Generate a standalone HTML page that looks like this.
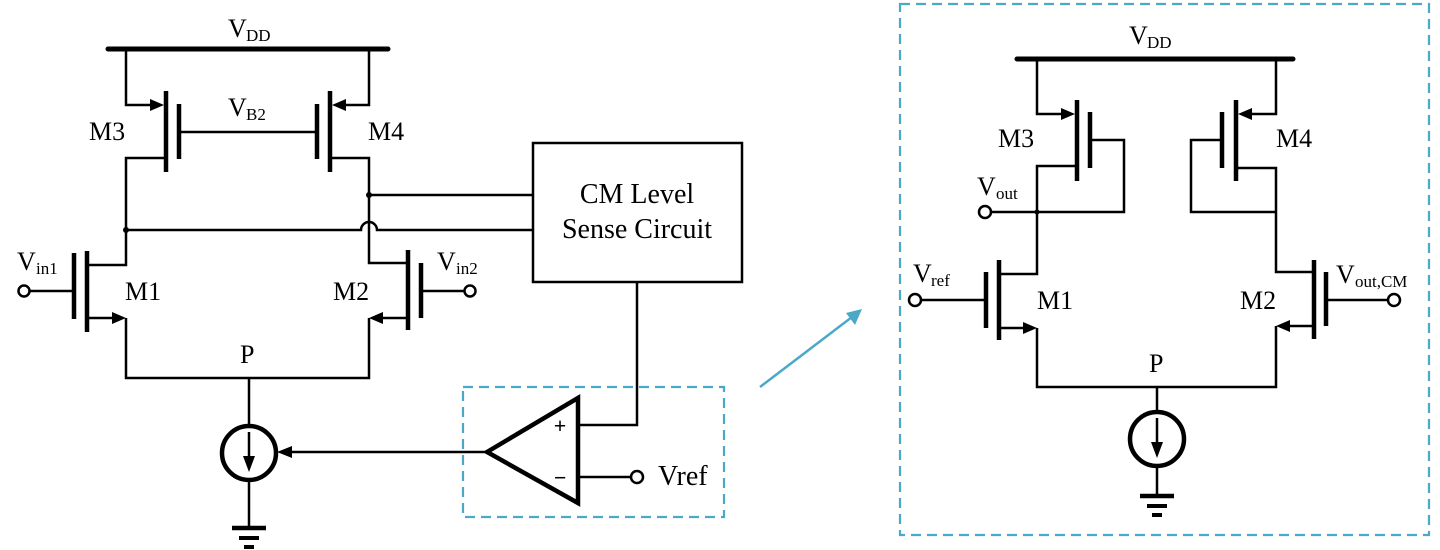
<!DOCTYPE html>
<html><head><meta charset="utf-8"><style>
html,body{margin:0;padding:0;background:#fff;}
svg{display:block;}
text{font-family:"Liberation Serif",serif;fill:#000;}
</style></head><body>
<svg width="1440" height="550" viewBox="0 0 1440 550" xmlns="http://www.w3.org/2000/svg">
<g stroke="#000" stroke-width="2.5" fill="none" stroke-linecap="butt">
<!-- LEFT CIRCUIT -->
<line x1="108" y1="49" x2="388" y2="49" stroke-width="5" stroke-linecap="round"/>
<polyline points="126,49 126,105 152,105"/>
<polyline points="369,49 369,105 344,105"/>
<line x1="166" y1="91" x2="166" y2="172" stroke-width="4.5"/>
<line x1="179" y1="104" x2="179" y2="159" stroke-width="4.5"/>
<line x1="317" y1="104" x2="317" y2="159" stroke-width="4.5"/>
<line x1="330" y1="91" x2="330" y2="172" stroke-width="4.5"/>
<line x1="179" y1="132" x2="317" y2="132"/>
<polyline points="166,158 126,158 126,265 87,265"/>
<polyline points="330,158 369,158 369,263 408,263"/>
<line x1="369" y1="195" x2="533" y2="195"/>
<path d="M126,230 L361,230 A8,8 0 0 1 377,230 L533,230"/>
<line x1="87" y1="251" x2="87" y2="332" stroke-width="4.5"/>
<line x1="74" y1="253" x2="74" y2="319" stroke-width="4.5"/>
<line x1="30" y1="291" x2="74" y2="291"/>
<line x1="87" y1="318" x2="113" y2="318"/>
<line x1="408" y1="250" x2="408" y2="330" stroke-width="4.5"/>
<line x1="421" y1="263" x2="421" y2="318" stroke-width="4.5"/>
<line x1="421" y1="291" x2="464" y2="291"/>
<line x1="408" y1="318" x2="382" y2="318"/>
<polyline points="126,318 126,378 369,378 369,318"/>
<line x1="249" y1="378" x2="249" y2="426"/>
<circle cx="249" cy="453" r="27" stroke-width="4.5"/>
<line x1="249" y1="432" x2="249" y2="460"/>
<line x1="249" y1="480" x2="249" y2="528"/>
<line x1="232" y1="528" x2="266" y2="528" stroke-width="4.5"/>
<line x1="239" y1="538" x2="259" y2="538" stroke-width="4"/>
<line x1="244" y1="547" x2="254" y2="547" stroke-width="4"/>
<circle cx="24" cy="291" r="5.5"/>
<circle cx="470" cy="291" r="5.5"/>
<!-- CM box -->
<rect x="533" y="143" width="209" height="139"/>
<polyline points="637,282 637,425 578,425"/>
<polygon points="487,452 578,398 578,503" stroke-width="4.5"/>
<line x1="578" y1="477" x2="631" y2="477"/>
<circle cx="637" cy="477" r="6"/>
<line x1="487" y1="452" x2="288" y2="452"/>
<!-- RIGHT CIRCUIT -->
<line x1="1017" y1="59" x2="1293" y2="59" stroke-width="5" stroke-linecap="round"/>
<polyline points="1037,59 1037,114 1062,114"/>
<polyline points="1276,59 1276,114 1252,114"/>
<line x1="1077" y1="100" x2="1077" y2="181" stroke-width="4.5"/>
<line x1="1090" y1="112" x2="1090" y2="168" stroke-width="4.5"/>
<polyline points="1090,140 1124,140 1124,212 1037,212"/>
<line x1="1236" y1="100" x2="1236" y2="181" stroke-width="4.5"/>
<line x1="1222" y1="112" x2="1222" y2="168" stroke-width="4.5"/>
<polyline points="1222,140 1191,140 1191,212 1276,212"/>
<polyline points="1077,166 1037,166 1037,274 999,274"/>
<polyline points="1236,168 1276,168 1276,272 1314,272"/>
<line x1="991" y1="212" x2="1037" y2="212"/>
<circle cx="985" cy="212" r="6"/>
<line x1="999" y1="260" x2="999" y2="340" stroke-width="4.5"/>
<line x1="986" y1="272" x2="986" y2="328" stroke-width="4.5"/>
<line x1="921" y1="300" x2="986" y2="300"/>
<circle cx="915" cy="300" r="6"/>
<line x1="999" y1="328" x2="1025" y2="328"/>
<line x1="1314" y1="260" x2="1314" y2="339" stroke-width="4.5"/>
<line x1="1326" y1="272" x2="1326" y2="326" stroke-width="4.5"/>
<line x1="1326" y1="300" x2="1388" y2="300"/>
<circle cx="1394" cy="300" r="6"/>
<line x1="1314" y1="326" x2="1288" y2="326"/>
<polyline points="1037,328 1037,387 1276,387 1276,326"/>
<line x1="1157" y1="387" x2="1157" y2="411"/>
<circle cx="1157" cy="439" r="27" stroke-width="4.5"/>
<line x1="1157" y1="418" x2="1157" y2="446"/>
<line x1="1157" y1="467" x2="1157" y2="496"/>
<line x1="1140" y1="496" x2="1174" y2="496" stroke-width="4.5"/>
<line x1="1147" y1="506" x2="1167" y2="506" stroke-width="4"/>
<line x1="1152" y1="515" x2="1162" y2="515" stroke-width="4"/>
</g>
<g fill="#000">
<circle cx="369" cy="195" r="3"/>
<circle cx="126" cy="230" r="3"/>
<circle cx="1037" cy="212" r="2.5"/>
<polygon points="164,105 150,99 150,111"/>
<polygon points="332,105 346,99 346,111"/>
<polygon points="126,318 112,312 112,324"/>
<polygon points="369,318 383,312 383,324"/>
<polygon points="249,472 243,456 255,456"/>
<polygon points="277,452 292,446 292,458"/>
<polygon points="1075,114 1061,108 1061,120"/>
<polygon points="1238,114 1252,108 1252,120"/>
<polygon points="1037,328 1023,322 1023,334"/>
<polygon points="1276,326 1290,320 1290,332"/>
<polygon points="1157,458 1151,442 1163,442"/>
</g>
<g stroke="#4aa9c9" stroke-width="2.2" fill="none" stroke-dasharray="10,6">
<rect x="463" y="387" width="261" height="130"/>
<rect x="900" y="4" width="529" height="531"/>
</g>
<line x1="760" y1="387" x2="852" y2="317" stroke="#4aa9c9" stroke-width="2.5"/>
<polygon points="862,309 846,313 855,325" fill="#4aa9c9"/>
<g font-size="26">
<text x="228" y="37">V</text><text x="246" y="41" font-size="17">DD</text>
<text x="228" y="116">V</text><text x="246" y="120" font-size="17">B2</text>
<text x="89" y="140">M3</text>
<text x="368" y="140">M4</text>
<text x="125" y="300">M1</text>
<text x="333" y="300">M2</text>
<text x="17" y="270">V</text><text x="36" y="274" font-size="17">in1</text>
<text x="437" y="270">V</text><text x="456" y="274" font-size="17">in2</text>
<text x="240" y="363">P</text>
<text x="1129" y="44">V</text><text x="1147" y="48" font-size="17">DD</text>
<text x="998" y="147">M3</text>
<text x="1276" y="147">M4</text>
<text x="977" y="195">V</text><text x="996" y="199" font-size="17">out</text>
<text x="1037" y="309">M1</text>
<text x="1240" y="309">M2</text>
<text x="913" y="282">V</text><text x="931" y="286" font-size="17">ref</text>
<text x="1336" y="283">V</text><text x="1355" y="287" font-size="17">out,CM</text>
<text x="1149" y="372">P</text>
</g>
<g font-size="28" text-anchor="middle">
<text x="637" y="203">CM Level</text>
<text x="637" y="238">Sense Circuit</text>
</g>
<text x="658" y="485" font-size="28">Vref</text>
<text x="560" y="433" font-size="22" font-family="Liberation Sans" font-weight="bold" text-anchor="middle">+</text>
<text x="560" y="485" font-size="22" font-family="Liberation Sans" font-weight="bold" text-anchor="middle">−</text>
</svg>
</body></html>
